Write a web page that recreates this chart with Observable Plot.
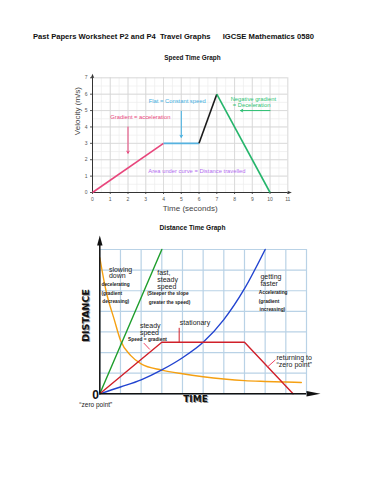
<!DOCTYPE html>
<html><head><meta charset="utf-8">
<script src="https://cdn.jsdelivr.net/npm/d3@7"></script>
<script src="https://cdn.jsdelivr.net/npm/@observablehq/plot@0.6"></script>
<style>
body{margin:0;background:#fff;}
#wrap{position:relative;width:386px;height:500px;overflow:hidden;font-family:"Liberation Sans",Arial,sans-serif;background:#fff;}
.t{position:absolute;font-weight:bold;white-space:pre;line-height:1;color:#111;transform:translateY(-50%);}
.c{transform:translate(-50%,-50%);}
#speed{position:absolute;left:0;top:64px;}
#dist{position:absolute;left:0;top:232px;}
</style></head>
<body>
<div id="wrap">
  <div class="t" style="left:33px;top:36.5px;font-size:7.6px">Past Papers Worksheet P2 and P4  Travel Graphs</div>
  <div class="t" style="left:222.7px;top:36.5px;font-size:7.65px">IGCSE Mathematics 0580</div>
  <div class="t c" style="left:192.5px;top:58px;font-size:6.4px">Speed Time Graph</div>
  <div id="speed"></div>
  <div class="t c" style="left:192.5px;top:228px;font-size:6.6px">Distance Time Graph</div>
  <div id="dist"></div>
</div>
<script>
// ---------- Speed–time graph data ----------
const speedTime = [0, 4, 6, 7, 10];
const speedVelocity = [0, 3, 3, 6, 0];
const speedSegmentColors = ["#e8467c", "#55b2e0", "#1b1b1b", "#25b56b"];
const speedXTicks = [0, 1, 2, 3, 4, 5, 6, 7, 8, 9, 10, 11];
const speedYTicks = [0, 1, 2, 3, 4, 5, 6, 7];
const speedNotes = [
  {text: "Gradient = acceleration", x: 1.0, y: 4.6, color: "#e8467c", anchor: "start"},
  {text: "Flat = Constant speed", x: 3.17, y: 5.6, color: "#3eaee0", anchor: "start"},
  {text: "Negative gradient", x: 9.06, y: 5.7, color: "#2bbf72", anchor: "middle"},
  {text: "= Deceleration", x: 8.96, y: 5.35, color: "#2bbf72", anchor: "middle"},
  {text: "Area under curve = Distance travelled", x: 5.88, y: 1.32, color: "#b36bf0", anchor: "middle"}
];
const speedPointers = [
  {x1: 2, y1: 4.0, x2: 2, y2: 2.4, color: "#e8467c"},
  {x1: 5, y1: 4.96, x2: 5, y2: 3.37, color: "#3eaee0"},
  {x1: 10, y1: 5, x2: 8.34, y2: 5, color: "#2bbf72"}
];

// ---------- Distance–time graph data ----------
const greenX = [0, 3];
const greenY = [0, 7];
const redX = [0, 3, 7, 9.35];
const redY = [0, 2.5, 2.5, 0];
const blueX = [0, 1, 2, 3, 4, 5, 6, 7, 8];
const blueY = [0, 0.33, 0.68, 1.16, 1.75, 2.5, 3.6, 5.1, 7];
const orangeX = [0, 0.3, 0.7, 1, 1.5, 2, 3, 4, 5, 6, 7, 8, 9, 9.75];
const orangeY = [6.6, 5.0, 3.6, 2.6, 1.85, 1.45, 1.15, 0.97, 0.83, 0.72, 0.64, 0.6, 0.57, 0.55];
const distXTicks = [0, 1, 2, 3, 4, 5, 6, 7, 8, 9, 10];
const distYTicks = [0, 1, 2, 3, 4, 5, 6, 7];
const distNotes = [
  {text: "slowing", x: 0.44, y: 6.03, kind: "hand"},
  {text: "down", x: 0.44, y: 5.71, kind: "hand"},
  {text: "decelerating", x: 0.08, y: 5.29, kind: "small"},
  {text: "(gradient", x: 0.08, y: 4.88, kind: "small"},
  {text: "decreasing)", x: 0.12, y: 4.48, kind: "small"},
  {text: "fast,", x: 2.78, y: 5.85, kind: "hand"},
  {text: "steady", x: 2.78, y: 5.53, kind: "hand"},
  {text: "speed", x: 2.78, y: 5.21, kind: "hand"},
  {text: "(Steeper the slope", x: 2.29, y: 4.88, kind: "small"},
  {text: "greater the speed)", x: 2.37, y: 4.45, kind: "small"},
  {text: "getting", x: 7.77, y: 5.66, kind: "hand"},
  {text: "faster", x: 7.77, y: 5.34, kind: "hand"},
  {text: "Accelerating", x: 7.69, y: 4.9, kind: "small"},
  {text: "(gradient", x: 7.69, y: 4.5, kind: "small"},
  {text: "increasing)", x: 7.73, y: 4.08, kind: "small"},
  {text: "steady", x: 1.94, y: 3.32, kind: "hand"},
  {text: "speed", x: 1.94, y: 2.96, kind: "hand"},
  {text: "Speed = gradient", x: 1.37, y: 2.64, kind: "small"},
  {text: "stationary", x: 3.87, y: 3.43, kind: "hand"},
  {text: "returning to", x: 8.55, y: 1.73, kind: "hand"},
  {text: "\u201czero point\u201d", x: 8.55, y: 1.39, kind: "hand"}
];
const distLeaders = [
  {x1: 3.84, y1: 3.2, x2: 3.84, y2: 2.5, color: "#d0202a"},
  {x1: 2.13, y1: 2.46, x2: 2.42, y2: 2.15, color: "#ee4466"},
  {x1: 8.5, y1: 1.65, x2: 8.1, y2: 1.29, color: "#ee4466"}
];

const font = "'Liberation Sans', Arial, sans-serif";

// ---------- Speed chart ----------
const sx = [speedXTicks[0], speedXTicks[speedXTicks.length - 1]];
const sy = [speedYTicks[0], speedYTicks[speedYTicks.length - 1]];
const minorSX = d3.range(sx[0], sx[1] + 0.01, 0.5);
const minorSY = d3.range(sy[0], sy[1] + 0.01, 0.5);
const speedSegments = d3.pairs(d3.zip(speedTime, speedVelocity))
  .map(([a, b], i) => ({x1: a[0], y1: a[1], x2: b[0], y2: b[1], color: speedSegmentColors[i]}));

const speedChart = Plot.plot({
  width: 386, height: 156,
  marginTop: 13.3, marginBottom: 28, marginLeft: 92, marginRight: 98.7,
  style: {fontFamily: font, background: "white"},
  x: {domain: sx}, y: {domain: sy},
  marks: [
    Plot.gridX(minorSX, {stroke: "#ececec", strokeOpacity: 1, strokeWidth: 0.7}),
    Plot.gridY(minorSY, {stroke: "#ececec", strokeOpacity: 1, strokeWidth: 0.7}),
    Plot.gridX(speedXTicks, {stroke: "#d6d6d6", strokeOpacity: 1, strokeWidth: 0.8}),
    Plot.gridY(speedYTicks, {stroke: "#d6d6d6", strokeOpacity: 1, strokeWidth: 0.8}),
    Plot.axisX(speedXTicks, {tickSize: 2, tickPadding: 2.5, fontSize: 5, color: "#555", label: null}),
    Plot.axisY(speedYTicks, {tickSize: 2, tickPadding: 3, fontSize: 5, color: "#555", label: null}),
    Plot.ruleY([sy[0]], {x1: sx[0], x2: sx[1], stroke: "#333", strokeWidth: 1}),
    Plot.ruleX([sx[0]], {y1: sy[0], y2: sy[1], stroke: "#333", strokeWidth: 1}),
    Plot.vector([[sx[1], sy[0]]], {x: d => d[0], y: d => d[1], shape: "spike", anchor: "start", length: 4, r: 1.6, rotate: 90, fill: "#333", stroke: "none"}),
    Plot.vector([[sx[0], sy[1]]], {x: d => d[0], y: d => d[1], shape: "spike", anchor: "start", length: 4, r: 1.6, rotate: 0, fill: "#333", stroke: "none"}),
    speedSegments.map(s => Plot.link([s], {x1: "x1", y1: "y1", x2: "x2", y2: "y2", stroke: s.color, strokeWidth: 1.6})),
    speedPointers.map(p => Plot.arrow([p], {x1: "x1", y1: "y1", x2: "x2", y2: "y2", stroke: p.color, strokeWidth: 1, headLength: 3.5})),
    speedNotes.map(n => Plot.text([n], {x: "x", y: "y", text: "text", fill: n.color, textAnchor: n.anchor, fontSize: 5.8})),
    Plot.text(["Time (seconds)"], {frameAnchor: "bottom", dy: 18, fontSize: 8, fill: "#444"}),
    Plot.text(["Velocity (m/s)"], {frameAnchor: "left", dx: -15.5, rotate: -90, fontSize: 8, fill: "#444"})
  ]
});
document.getElementById("speed").append(speedChart);

// ---------- Distance chart ----------
const dx = [distXTicks[0], distXTicks[distXTicks.length - 1]];
const dy = [distYTicks[0], distYTicks[distYTicks.length - 1]];
const hand = distNotes.filter(d => d.kind === "hand");
const small = distNotes.filter(d => d.kind === "small");

const distChart = Plot.plot({
  width: 386, height: 180,
  marginTop: 17, marginBottom: 18.7, marginLeft: 99.3, marginRight: 80,
  style: {fontFamily: font, background: "white"},
  x: {domain: dx, axis: null}, y: {domain: dy, axis: null},
  marks: [
    Plot.gridX(distXTicks, {stroke: "#b9d2e6", strokeOpacity: 1, strokeWidth: 1.2}),
    Plot.gridY(distYTicks, {stroke: "#b9d2e6", strokeOpacity: 1, strokeWidth: 1.2}),
    Plot.line(d3.zip(orangeX, orangeY), {x: d => d[0], y: d => d[1], stroke: "#f5a012", strokeWidth: 1.4, curve: "monotone-x"}),
    Plot.line(d3.zip(blueX, blueY), {x: d => d[0], y: d => d[1], stroke: "#2143d0", strokeWidth: 1.4, curve: "monotone-x"}),
    Plot.line(d3.zip(greenX, greenY), {x: d => d[0], y: d => d[1], stroke: "#1e9e2c", strokeWidth: 1.4}),
    Plot.line(d3.zip(redX, redY), {x: d => d[0], y: d => d[1], stroke: "#d0202a", strokeWidth: 1.4}),
    distLeaders.map(l => Plot.link([l], {x1: "x1", y1: "y1", x2: "x2", y2: "y2", stroke: l.color, strokeWidth: 1})),
    Plot.ruleY([dy[0]], {x1: dx[0], x2: dx[1], stroke: "#111", strokeWidth: 1.5}),
    Plot.ruleX([dx[0]], {y1: dy[0], y2: dy[1] + 0.2, stroke: "#111", strokeWidth: 1.5}),
    Plot.vector([[dx[1], dy[0]]], {x: d => d[0], y: d => d[1], shape: "spike", anchor: "start", length: 14, r: 2.8, rotate: 90, fill: "#111", stroke: "none"}),
    Plot.vector([[dx[0], dy[1] + 0.2]], {x: d => d[0], y: d => d[1], shape: "spike", anchor: "start", length: 10, r: 2.7, rotate: 0, fill: "#111", stroke: "none"}),
    Plot.text(hand, {x: "x", y: "y", text: "text", textAnchor: "start", fontSize: 7, fill: "#222"}),
    Plot.text(small, {x: "x", y: "y", text: "text", textAnchor: "start", fontSize: 4.8, fontWeight: "bold", fill: "#222"}),
    Plot.text(["DISTANCE"], {x: dx[0], y: 3.8, dx: -13.3, dy: 1, rotate: -90, fontSize: 9.5, fontWeight: 900, fill: "#999", fontFamily: "DejaVu Sans"}),
    Plot.text(["DISTANCE"], {x: dx[0], y: 3.8, dx: -14.3, rotate: -90, fontSize: 9.5, fontWeight: 900, fill: "#111", fontFamily: "DejaVu Sans"}),
    Plot.text(["TIME"], {x: 4.63, frameAnchor: "bottom", dx: 1, dy: 9.4, fontSize: 9, fontWeight: 900, fill: "#999", fontFamily: "DejaVu Sans"}),
    Plot.text(["TIME"], {x: 4.63, frameAnchor: "bottom", dy: 8.4, fontSize: 9, fontWeight: 900, fill: "#111", fontFamily: "DejaVu Sans"}),
    Plot.text(["0"], {x: dx[0], frameAnchor: "bottom", dx: -4.3, dy: 5, fontSize: 12, fontWeight: "bold", fill: "#111"}),
    Plot.text(["\u201czero point\u201d"], {x: dx[0], frameAnchor: "bottom", dx: -4, dy: 13, fontSize: 6.5, fill: "#222"})
  ]
});
document.getElementById("dist").append(distChart);
</script>
</body></html>
